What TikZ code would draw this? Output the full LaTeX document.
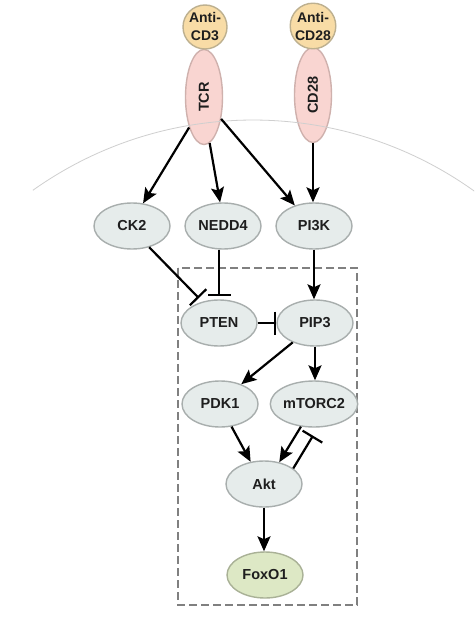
\documentclass[tikz,border=0pt]{standalone}
\usepackage{fontspec}
\setmainfont{Liberation Sans}
\usetikzlibrary{arrows.meta,calc,shapes.geometric}
\definecolor{nodefill}{HTML}{E6ECEB}
\definecolor{nodeline}{HTML}{A8AEAD}
\definecolor{greenfill}{HTML}{DDE8C5}
\definecolor{greenline}{HTML}{A9B196}
\definecolor{abfill}{HTML}{F8DCA6}
\definecolor{abline}{HTML}{BDB08F}
\definecolor{recfill}{HTML}{F9D5D1}
\definecolor{recline}{HTML}{CFB1AD}
\definecolor{txt}{HTML}{1E1E1E}
\definecolor{boxline}{HTML}{808080}
\definecolor{membrane}{HTML}{CFCFCF}
\begin{document}
\begin{tikzpicture}[x=1pt,y=-1pt,
  cell/.style={ellipse, draw=nodeline, line width=1.4pt, fill=nodefill,
    minimum width=76pt, minimum height=46pt, inner sep=0pt, text=txt,
    font=\fontsize{14.5}{16}\selectfont\bfseries},
  greencell/.style={cell, fill=greenfill, draw=greenline},
  antibody/.style={circle, draw=abline, line width=1.4pt, fill=abfill,
    minimum size=44pt, inner sep=0pt, align=center, text=txt,
    font=\fontsize{14}{18}\selectfont\bfseries},
  receptor/.style={ellipse, draw=recline, line width=1.4pt, fill=recfill,
    minimum width=37pt, minimum height=95pt, inner sep=0pt, text=txt,
    font=\fontsize{14.5}{16}\selectfont\bfseries},
  act/.style={-{Stealth[length=15pt,width=13pt,inset=3pt]}, line width=2.2pt},
  inh/.style={-{Bar[width=23pt,line width=2.2pt]}, line width=2.2pt}
]
\useasboundingbox (0,0) rectangle (474,631);
\clip (0,0) rectangle (474,631);
\fill[white] (0,0) rectangle (474,631);

% dashed region
\draw[boxline, dashed, dash pattern=on 8pt off 4pt, line width=2pt]
  (178,268) rectangle (357,605);

% receptors and antibodies
\node[receptor] (tcr) at (204,97) {\rotatebox{90}{TCR}};
\node[receptor] (cd28) at (313,95) {\rotatebox{90}{CD28}};
\node[antibody] (acd3) at (205,27) {Anti-\\CD3};
\node[antibody] (acd28) at (313,26) {Anti-\\CD28};

% membrane
\draw[membrane, line width=0.8pt] (253,500) ++(-125.4:380)
  arc[start angle=-125.4, end angle=-54.3, radius=380];

% signalling nodes
\node[cell] (ck2) at (132,226) {CK2};
\node[cell] (nedd4) at (223,226) {NEDD4};
\node[cell] (pi3k) at (314,226) {PI3K};
\node[cell] (pten) at (219,323) {PTEN};
\node[cell] (pip3) at (315,323) {PIP3};
\node[cell] (pdk1) at (220,404) {PDK1};
\node[cell] (mtorc2) at (314,404) {mTORC2};
\node[cell] (akt) at (264,484) {Akt};
\node[greencell] (foxo1) at (265,575) {FoxO1};

\coordinate (aktinh) at ($(mtorc2.south)+(-1,8)$);

% connectors
\draw[act] (tcr.244) -- (ck2.64);
\draw[act] (tcr.277) -- (nedd4.97);
\draw[act] (tcr.308) -- (pi3k.133);
\draw[act] (cd28.south) -- (cd28.south |- pi3k.north);
\draw[inh, shorten >=5pt] (ck2.-51) -- (pten.128);
\draw[inh, shorten >=3pt] (pten.north |- nedd4.south) -- (pten.north);
\draw[inh] (pten.east) -- (pip3.west);
\draw[act] (pi3k.south) -- (pi3k.south |- pip3.north);
\draw[act] (pip3.221) -- (pdk1.43);
\draw[act] (pip3.south) -- (pip3.south |- mtorc2.north);
\draw[act] (pdk1.297) -- (akt.121);
\draw[act] (mtorc2.240) -- (akt.55);
\draw[inh] (akt.28) -- (aktinh);
\draw[act] (akt.south) -- (akt.south |- foxo1.north);
\end{tikzpicture}
\end{document}
